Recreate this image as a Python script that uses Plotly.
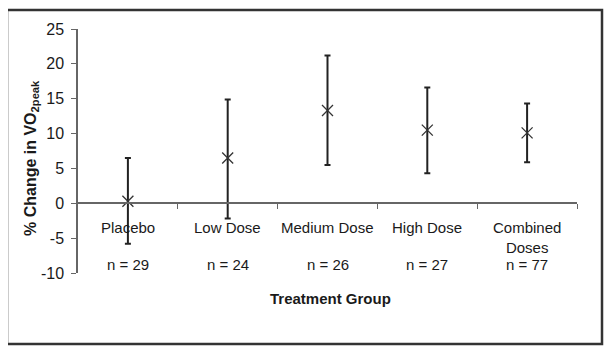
import plotly.graph_objects as go

# ---- data ----
groups = ["Placebo", "Low Dose", "Medium Dose", "High Dose", "Combined<br>Doses"]
n_counts = [29, 24, 26, 27, 77]
mean_change = [0.3, 6.5, 13.3, 10.5, 10.1]
ci_upper = [6.5, 14.9, 21.2, 16.6, 14.3]
ci_lower = [-5.8, -2.2, 5.5, 4.3, 5.9]
y_ticks = [-10, -5, 0, 5, 10, 15, 20, 25]

# ---- layout geometry (pixels, in window coords; page body has 8px margin) ----
OFF = 8
W, H = 614 - OFF, 355 - OFF
L, R, T, B = 78 - OFF, 577 - OFF, 29 - OFF, 273 - OFF
YMIN, YMAX = -10, 25
pw, ph = R - L, B - T

def px_to_paper_x(px):
    return (px - OFF - L) / pw

def px_to_paper_y(py):
    return (B - (py - OFF)) / ph

FONT = "Liberation Sans, Arial, Helvetica, sans-serif"
TXT = "#1a1a1a"
xs = [i + 0.5 for i in range(len(groups))]
err_plus = [u - m for u, m in zip(ci_upper, mean_change)]
err_minus = [m - l for m, l in zip(mean_change, ci_lower)]

fig = go.Figure()
fig.add_trace(go.Scatter(
    x=xs, y=mean_change, mode="markers",
    marker=dict(symbol="x-thin", size=11, color="#333",
                line=dict(width=1.3, color="#333")),
    error_y=dict(type="data", symmetric=False, array=err_plus,
                 arrayminus=err_minus, color="#222", thickness=2, width=3),
    showlegend=False, hoverinfo="skip",
))

annotations = []
for x, g, n in zip(xs, groups, n_counts):
    annotations.append(dict(x=x, y=0, xref="x", yref="y", text=g,
                            showarrow=False, yanchor="top", yshift=-14,
                            font=dict(family=FONT, size=15, color=TXT)))
    annotations.append(dict(x=x, y=0, xref="x", yref="y", text=f"n = {n}",
                            showarrow=False, yanchor="middle", yshift=-61,
                            font=dict(family=FONT, size=15, color=TXT)))
annotations.append(dict(x=px_to_paper_x(330), y=px_to_paper_y(298),
                        xref="paper", yref="paper",
                        text="<b>Treatment Group</b>", showarrow=False,
                        yanchor="middle",
                        font=dict(family=FONT, size=15, color=TXT)))
annotations.append(dict(x=px_to_paper_x(31), y=px_to_paper_y(158),
                        xref="paper", yref="paper", textangle=-90,
                        text="<b>% Change in VO<sub>2peak</sub></b>",
                        showarrow=False, xanchor="center", yanchor="middle",
                        font=dict(family=FONT, size=16, color=TXT)))

fig.update_layout(
    width=W, height=H,
    margin=dict(l=L, r=W - R, t=T, b=H - B, autoexpand=False),
    paper_bgcolor="white", plot_bgcolor="white",
    font=dict(family=FONT, color=TXT),
    xaxis=dict(range=[0, len(groups)], showline=False, showgrid=False,
               zeroline=False, showticklabels=False, ticks=""),
    xaxis2=dict(range=[0, len(groups)], overlaying="x", anchor="free",
                position=(0 - YMIN) / (YMAX - YMIN),
                tickvals=list(range(1, len(groups) + 1)), ticks="outside",
                ticklen=5, tickcolor="#666", showline=True, linecolor="#666",
                linewidth=1.5, showticklabels=False, showgrid=False,
                zeroline=False),
    yaxis=dict(range=[YMIN, YMAX], tickvals=y_ticks,
               ticktext=[str(v) for v in y_ticks], ticks="outside",
               ticklen=5, tickcolor="#666", showline=True, linecolor="#666",
               linewidth=1.5, showgrid=False, zeroline=False,
               ticklabelstandoff=4,
               tickfont=dict(family=FONT, size=16, color=TXT)),
    annotations=annotations,
    shapes=[dict(type="rect", xref="paper", yref="paper",
                 x0=px_to_paper_x(7), x1=px_to_paper_x(602),
                 y0=px_to_paper_y(344), y1=px_to_paper_y(10),
                 line=dict(color="#333", width=2.5), layer="below")],
)
# invisible trace on xaxis2 so it renders
fig.add_trace(go.Scatter(x=[None], y=[None], xaxis="x2", showlegend=False))

fig.write_html("out.html")
